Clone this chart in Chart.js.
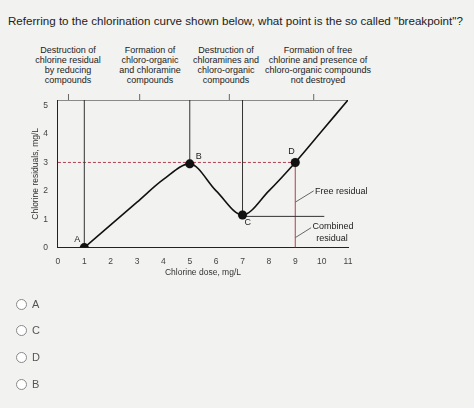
<!DOCTYPE html>
<html><head><meta charset="utf-8">
<script src="https://cdn.jsdelivr.net/npm/chart.js@4"></script>
<style>
body{margin:0;width:474px;height:408px;background:#f2f2f0;font-family:"Liberation Sans",Arial,sans-serif;position:relative;overflow:hidden}
#title{position:absolute;left:8px;top:14px;font-size:11.6px;color:#222;white-space:nowrap}
.hd{position:absolute;top:45px;font-size:9px;line-height:10px;text-align:center;color:#222;transform:translateX(-50%);white-space:nowrap}
canvas{position:absolute;left:0;top:0}
.opt{position:absolute;left:16px;font-size:11px;color:#555}
.opt span{display:inline-block;width:9px;height:9px;border:1px solid #888;border-radius:50%;vertical-align:-2px;margin-right:5px;background:#fff}
</style></head><body>
<div id="title">Referring to the chlorination curve shown below, what point is the so called "breakpoint"?</div>
<div class="hd" style="left:68px">Destruction of<br>chlorine residual<br>by reducing<br>compounds</div>
<div class="hd" style="left:150px">Formation of<br>chloro-organic<br>and chloramine<br>compounds</div>
<div class="hd" style="left:226px">Destruction of<br>chloramines and<br>chloro-organic<br>compounds</div>
<div class="hd" style="left:318px">Formation of free<br>chlorine and presence of<br>chloro-organic compounds<br>not destroyed</div>
<canvas id="c" width="474" height="408"></canvas>
<div class="opt" style="top:298px"><span></span>A</div>
<div class="opt" style="top:324px"><span></span>C</div>
<div class="opt" style="top:351px"><span></span>D</div>
<div class="opt" style="top:378px"><span></span>B</div>
<script>
const doses = [1, 2, 3, 4, 5, 6, 7, 8, 9, 10, 11];
const residuals = [0, 0.8, 1.6, 2.4, 2.95, 2.0, 1.15, 2.0, 3.0, 4.1, 5.2];
const keyLabels = ['A', 'B', 'C', 'D'];
const keyDoses = [1, 5, 7, 9];
const keyResiduals = [0, 2.95, 1.15, 3.0];
const xTicks = [0, 1, 2, 3, 4, 5, 6, 7, 8, 9, 10, 11];
const yTicks = [0, 1, 2, 3, 4, 5];
const topValue = 5.2;

const line = (pts, color, dash) => ({type: 'line', data: pts, borderColor: color, borderWidth: 1,
  borderDash: dash || [], pointRadius: 0, tension: 0});

const extras = {
  id: 'extras',
  afterDraw(chart) {
    const c = chart.ctx, x = chart.scales.x, y = chart.scales.y;
    c.save();
    c.fillStyle = '#222'; c.font = '9px "Liberation Sans", Arial';
    const off = [[-10, -6], [6, -5], [2, 10], [-7, -8]];
    keyLabels.forEach((t, i) => c.fillText(t, x.getPixelForValue(keyDoses[i]) + off[i][0], y.getPixelForValue(keyResiduals[i]) + off[i][1]));
    c.fillText('Free residual', x.getPixelForValue(9.75), y.getPixelForValue(2.0) + 3);
    c.fillText('Combined', x.getPixelForValue(9.65), y.getPixelForValue(0.75) + 3);
    c.fillText('residual', x.getPixelForValue(9.8), y.getPixelForValue(0.35) + 3);
    c.strokeStyle = '#666'; c.lineWidth = 1;
    c.beginPath();
    c.moveTo(x.getPixelForValue(9), y.getPixelForValue(1.6)); c.lineTo(x.getPixelForValue(9.7), y.getPixelForValue(2.0));
    c.moveTo(x.getPixelForValue(9), y.getPixelForValue(0.35)); c.lineTo(x.getPixelForValue(9.6), y.getPixelForValue(0.7));
    [0.4, 3.1, 6.5, 9.7].forEach(v => { c.moveTo(x.getPixelForValue(v), y.getPixelForValue(topValue)); c.lineTo(x.getPixelForValue(v), y.getPixelForValue(topValue) - 6); });
    c.stroke();
    c.restore();
  }
};

new Chart(document.getElementById('c'), {
  type: 'line',
  data: {
    datasets: [
      {data: doses.map((d, i) => ({x: d, y: residuals[i]})), borderColor: '#111', borderWidth: 1.6,
        pointRadius: 0, cubicInterpolationMode: 'monotone'},
      {type: 'scatter', data: keyDoses.map((d, i) => ({x: d, y: keyResiduals[i]})), backgroundColor: '#111', pointRadius: 4.5},
      line([{x: 0, y: topValue}, {x: 11, y: topValue}], '#222'),
      line([{x: 1, y: 0}, {x: 1, y: topValue}], '#333'),
      line([{x: 5, y: 2.95}, {x: 5, y: topValue}], '#333'),
      line([{x: 7, y: 1.15}, {x: 7, y: topValue}], '#333'),
      line([{x: 7, y: 1.1}, {x: 10.1, y: 1.1}], '#333'),
      line([{x: 0, y: 3}, {x: 9, y: 3}], '#b04050', [3, 2]),
      line([{x: 9, y: 0}, {x: 9, y: 3}], '#b04050')
    ]
  },
  options: {
    animation: false, responsive: false,
    layout: {padding: {left: 31, right: 126, top: 100, bottom: 130}},
    plugins: {legend: {display: false}, tooltip: {enabled: false}},
    scales: {
      x: {type: 'linear', min: 0, max: 11, grid: {display: false}, border: {color: '#222'},
        afterBuildTicks: a => { a.ticks = xTicks.map(v => ({value: v})); },
        ticks: {color: '#444', font: {size: 8.5}, padding: 1},
        title: {display: true, text: 'Chlorine dose, mg/L', color: '#333', font: {size: 8.5}, padding: 0}},
      y: {min: 0, max: topValue, grid: {display: false}, border: {color: '#222'},
        afterBuildTicks: a => { a.ticks = yTicks.map(v => ({value: v})); },
        ticks: {color: '#444', font: {size: 8.5}, padding: 2},
        title: {display: true, text: 'Chlorine residuals, mg/L', color: '#333', font: {size: 8.5}, padding: 0}}
    }
  },
  plugins: [extras]
});
</script>
</body></html>
